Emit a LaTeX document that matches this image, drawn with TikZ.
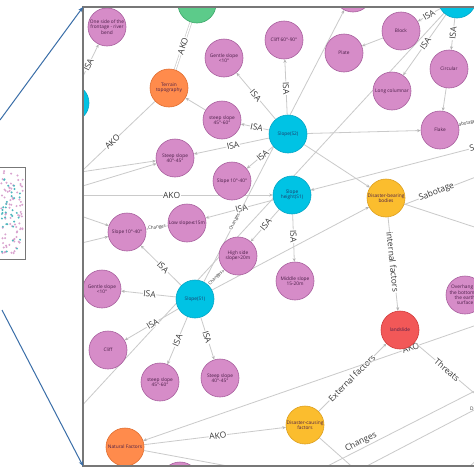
\documentclass[tikz,border=0pt]{standalone}
\usepackage{fontspec}
\setmainfont{Open Sans}
\newfontfamily\djv{DejaVu Sans}
\usetikzlibrary{arrows.meta}
\pgfdeclarelayer{back}
\pgfdeclarelayer{bg}
\pgfsetlayers{back,bg,main}
\definecolor{pinkf}{HTML}{D68CC8}
\definecolor{pinkd}{HTML}{A8609E}
\definecolor{pinkt}{HTML}{4B1E48}
\definecolor{cyanf}{HTML}{00C3E4}
\definecolor{cyand}{HTML}{06A6C6}
\definecolor{cyant}{HTML}{1D3A6A}
\definecolor{orgf}{HTML}{FF8B4C}
\definecolor{orgd}{HTML}{E06E30}
\definecolor{yelf}{HTML}{FBBD2E}
\definecolor{yeld}{HTML}{DDA020}
\definecolor{redf}{HTML}{F25858}
\definecolor{redd}{HTML}{D03A3A}
\definecolor{grnf}{HTML}{5CCB8A}
\definecolor{grnd}{HTML}{3CA86A}
\definecolor{linec}{HTML}{CACACA}
\definecolor{arrc}{HTML}{B4B4B4}
\definecolor{framec}{HTML}{777777}
\definecolor{bluea}{HTML}{3A6EA8}
\definecolor{labc}{HTML}{383838}
\definecolor{dotp}{HTML}{D9A3CF}
\definecolor{dott}{HTML}{4DB6BE}
\tikzset{
  nd/.style={circle, line width=0.6pt, minimum size=38pt, inner sep=0pt, align=center,
    font=\fontsize{4.8pt}{5.3pt}\selectfont},
  pk/.style={nd, fill=pinkf, draw=pinkd, text=pinkt},
  cy/.style={nd, fill=cyanf, draw=cyand, text=cyant},
  og/.style={nd, fill=orgf, draw=orgd, text=pinkt},
  yl/.style={nd, fill=yelf, draw=yeld, text=pinkt},
  rd/.style={nd, fill=redf, draw=redd, text=pinkt},
  gn/.style={nd, fill=grnf, draw=grnd, text=pinkt},
  conn/.style={draw=linec, line width=0.8pt, -{Stealth[length=3.5pt,width=3pt,color=arrc]}},
  plain/.style={draw=linec, line width=0.8pt},
  dconn/.style={draw=linec, line width=0.6pt, double=white, double distance=1.4pt},
  lab/.style={sloped, fill=white, inner sep=0.6pt, font=\fontsize{8.5pt}{9pt}\selectfont, text=labc},
  slab/.style={sloped, fill=white, inner sep=0.3pt, font=\fontsize{4.5pt}{5pt}\selectfont, text=labc},
}
\begin{document}
\begin{tikzpicture}[x=1pt,y=-1pt]
\useasboundingbox (0,0) rectangle (474,474);
\begin{pgfonlayer}{back}
\fill[white] (0,0) rectangle (474,474);
\end{pgfonlayer}
% ---------- nodes inside the zoom frame ----------
\begin{scope}
\clip (83,7) rectangle (474,466);
\node[pk] (oneside) at (107,27) {One side of the\\frontage - river\\bend};
\node[cy] (cyanL) at (70,103) {};
\node[gn, text depth=0pt] (green) at (197,4) {\raisebox{-2.5pt}{Conditions}};
\node[og] (terrain) at (169,88) {Terrain\\topography};
\node[pk] (gentleA) at (224,58) {Gentle slope\\<10°};
\node[pk] (cliffA) at (284,40) {Cliff 60°-90°};
\node[pk] (steepA) at (222,120) {steep slope\\45°-60°};
\node[cy] (slopeS2) at (288,134) {Slope(S2)};
\node[pk] (steepB) at (175,158) {Steep slope\\40°-45°};
\node[pk] (slope1040A) at (232,181) {Slope 10°-40°};
\node[pk] (topPink) at (353,-7) {};
\node[cy] (cyanTR) at (457,-1) {};
\node[pk] (block) at (401,31) {Block};
\node[pk] (plate) at (344,53) {Plate};
\node[pk] (longcol) at (392,91) {Long columnar};
\node[pk] (circular) at (449,69) {Circular};
\node[pk] (flake) at (440,130) {Flake};
\node[cy] (slopeH) at (292,195) {Slope\\height(S1)};
\node[pk] (lowslope) at (187,223) {Low slope{\djv ≤}15m};
\node[pk] (slope1040B) at (127,232) {Slope 10°-40°};
\node[pk] (highside) at (238,256) {High side\\slope>20m};
\node[pk] (middle) at (295,281) {Middle slope\\15-20m};
\node[pk] (gentleB) at (102,289) {Gentle slope\\<10°};
\node[cy] (slopeS1) at (195,299) {Slope(S1)};
\node[pk] (cliffB) at (108,350) {Cliff};
\node[pk] (steepC) at (160,382) {steep slope\\45°-60°};
\node[pk] (steepD) at (220,378) {Steep slope\\40°-45°};
\node[og] (natural) at (125,447) {Natural Factors};
\node[pk] (bottomPink) at (180,481) {};
\node[yl] (dcausing) at (305,425) {Disaster-causing\\factors};
\node[yl] (dbearing) at (386,198) {Disaster-bearing\\bodies};
\node[rd] (landslide) at (400,330) {landslide};
\node[pk] (overhang) at (465,295) {Overhang at\\the bottom of\\the earth\\surface};
\node[font=\fontsize{4.8pt}{5.3pt}\selectfont, text=labc, anchor=west, inner sep=0pt] (dnode) at (470,409) {D};
\end{scope}
% ---------- off-frame end points ----------
\coordinate (offTL) at (40,211);
\coordinate (offBL) at (30,462);
\coordinate (offL) at (20,195);
\coordinate (offL2) at (20,181);
\coordinate (offL3) at (20,205);
\coordinate (offL5) at (20,258);
\coordinate (offR1) at (520,160);
\coordinate (offR2) at (520,136);
\coordinate (offR3) at (530,108);
\coordinate (offR4) at (520,310);
\coordinate (offR5) at (500,415);
\coordinate (offR6) at (520,368);
\coordinate (offR7) at (520,386);
\coordinate (offR8) at (520,242);
\coordinate (offR9) at (520,420);
\coordinate (offB1) at (300,480);
\coordinate (offB2) at (340,480);
\coordinate (offB3) at (375,487);
\coordinate (offB4) at (455,480);
\coordinate (offB5) at (260,472);
% ---------- connectors ----------
\begin{pgfonlayer}{bg}
\begin{scope}
\clip (83,7) rectangle (474,466);
\draw[conn] (cyanL) -- node[lab,pos=.5]{ISA} (oneside);
\draw[dconn] (terrain) -- node[lab,pos=.5]{AKO} (green);
\draw[conn] (terrain) -- node[lab,pos=.37]{AKO} (offTL);
\draw[conn] (steepA) -- (terrain);
\draw[conn] (slopeS2) -- node[lab,pos=.51]{ISA} (gentleA);
\draw[conn] (slopeS2) -- node[lab,pos=.48]{ISA} (cliffA);
\draw[conn] (slopeS2) -- node[lab,pos=.44]{ISA} (steepA);
\draw[conn] (slopeS2) -- node[lab,pos=.48]{ISA} (steepB);
\draw[conn] (slopeS2) -- node[lab,pos=.4]{ISA} (slope1040A);
\draw[conn] (slopeS2) -- (flake);
\draw[conn] (slopeS2) -- (dbearing);
\draw[conn] (cyanTR) -- node[lab,pos=.5]{ISA} (block);
\draw[conn] (cyanTR) -- node[lab,pos=.48]{ISA} (longcol);
\draw[conn] (cyanTR) -- node[lab,pos=.47]{ISA} (circular);
\draw[conn] (block) -- (plate);
\draw[conn] (circular) -- (flake);
\draw[plain] (cyanTR) -- (offBL);
\draw[plain] (flake) -- node[slab,pos=.1]{Sabotage} (offR3);
\draw[conn] (offL) -- node[lab,pos=.6]{AKO} (slopeH);
\draw[conn] (offL) -- (slope1040B);
\draw[conn] (offL2) -- (steepB);
\draw[conn] (offL3) -- (steepB);
\draw[conn] (offL5) -- (slope1040B);
\draw[conn] (slopeH) -- node[lab,pos=.47]{ISA} (lowslope);
\draw[conn] (slopeH) -- node[lab,pos=.47]{ISA} (highside);
\draw[conn] (slopeH) -- node[lab,pos=.46]{ISA} (middle);
\draw[conn] (offR2) -- node[lab,pos=.23]{S} (slopeH);
\draw[conn] (lowslope) -- node[slab,pos=.5]{Changes} (slope1040B);
\draw[conn] (slopeS1) -- node[slab,pos=.44]{Changes} (highside);
\draw[conn] (slopeS1) -- node[slab,pos=.22]{Changes} (topPink);
\draw[conn] (slopeS1) -- node[lab,pos=.45]{ISA} (slope1040B);
\draw[conn] (slopeS1) -- node[lab,pos=.48]{ISA} (gentleB);
\draw[conn] (slopeS1) -- node[lab,pos=.48]{ISA} (cliffB);
\draw[conn] (slopeS1) -- node[lab,pos=.5]{ISA} (steepC);
\draw[conn] (slopeS1) -- node[lab,pos=.47]{ISA} (steepD);
\draw[conn] (slopeS1) -- (dbearing);
\draw[conn] (dbearing.-20) -- node[lab,pos=.28]{Sabotage} (offR1);
\draw[plain] (dbearing) -- (offR8);
\draw[conn] (dbearing) -- node[lab,pos=.48]{internal factors} (landslide);
\draw[conn] (dcausing) -- node[lab,pos=.49]{External factors} (landslide);
\draw[conn] (natural) -- node[lab,pos=.52]{AKO} (dcausing);
\draw[conn] (offR4) -- node[lab,pos=.29]{AKO} (natural);
\draw[conn] (landslide) -- node[lab,pos=.38]{Threats} (offR5);
\draw[plain] (offB1) -- node[lab,pos=.29,above=1pt]{Changes} (offR6);
\draw[plain] (offB2) -- (offR7);
\draw[plain] (dcausing) -- (offB3);
\draw[plain] (natural) -- (offB5);
\draw[plain] (offB4) -- (offR9);
\end{scope}
\end{pgfonlayer}
% ---------- zoom frame ----------
\coordinate (ftl) at (83,7);
\coordinate (fbl) at (83,466);
\draw[framec, line width=1.5pt] (480,7) -- (ftl) -- (fbl) -- (480,466);
% ---------- thumbnail of the whole graph ----------
\draw[framec, line width=0.8pt] (-5,167) rectangle (25,259);
\pgfmathsetseed{42}
\foreach \i in {1,...,80}{\fill[dotp] ({1+rnd*22},{171+rnd*85}) circle (1.1);}
\foreach \i in {1,...,35}{\fill[dott] ({1+rnd*20},{175+rnd*78}) circle (1.1);}
\coordinate (thumbA) at (0,120);
\coordinate (thumbB) at (2,310);
\draw[bluea, line width=1pt, -{Stealth[length=5pt,width=4pt]}] (thumbA) -- (ftl);
\draw[bluea, line width=1pt, -{Stealth[length=5pt,width=4pt]}] (thumbB) -- (fbl);
\end{tikzpicture}
\end{document}
